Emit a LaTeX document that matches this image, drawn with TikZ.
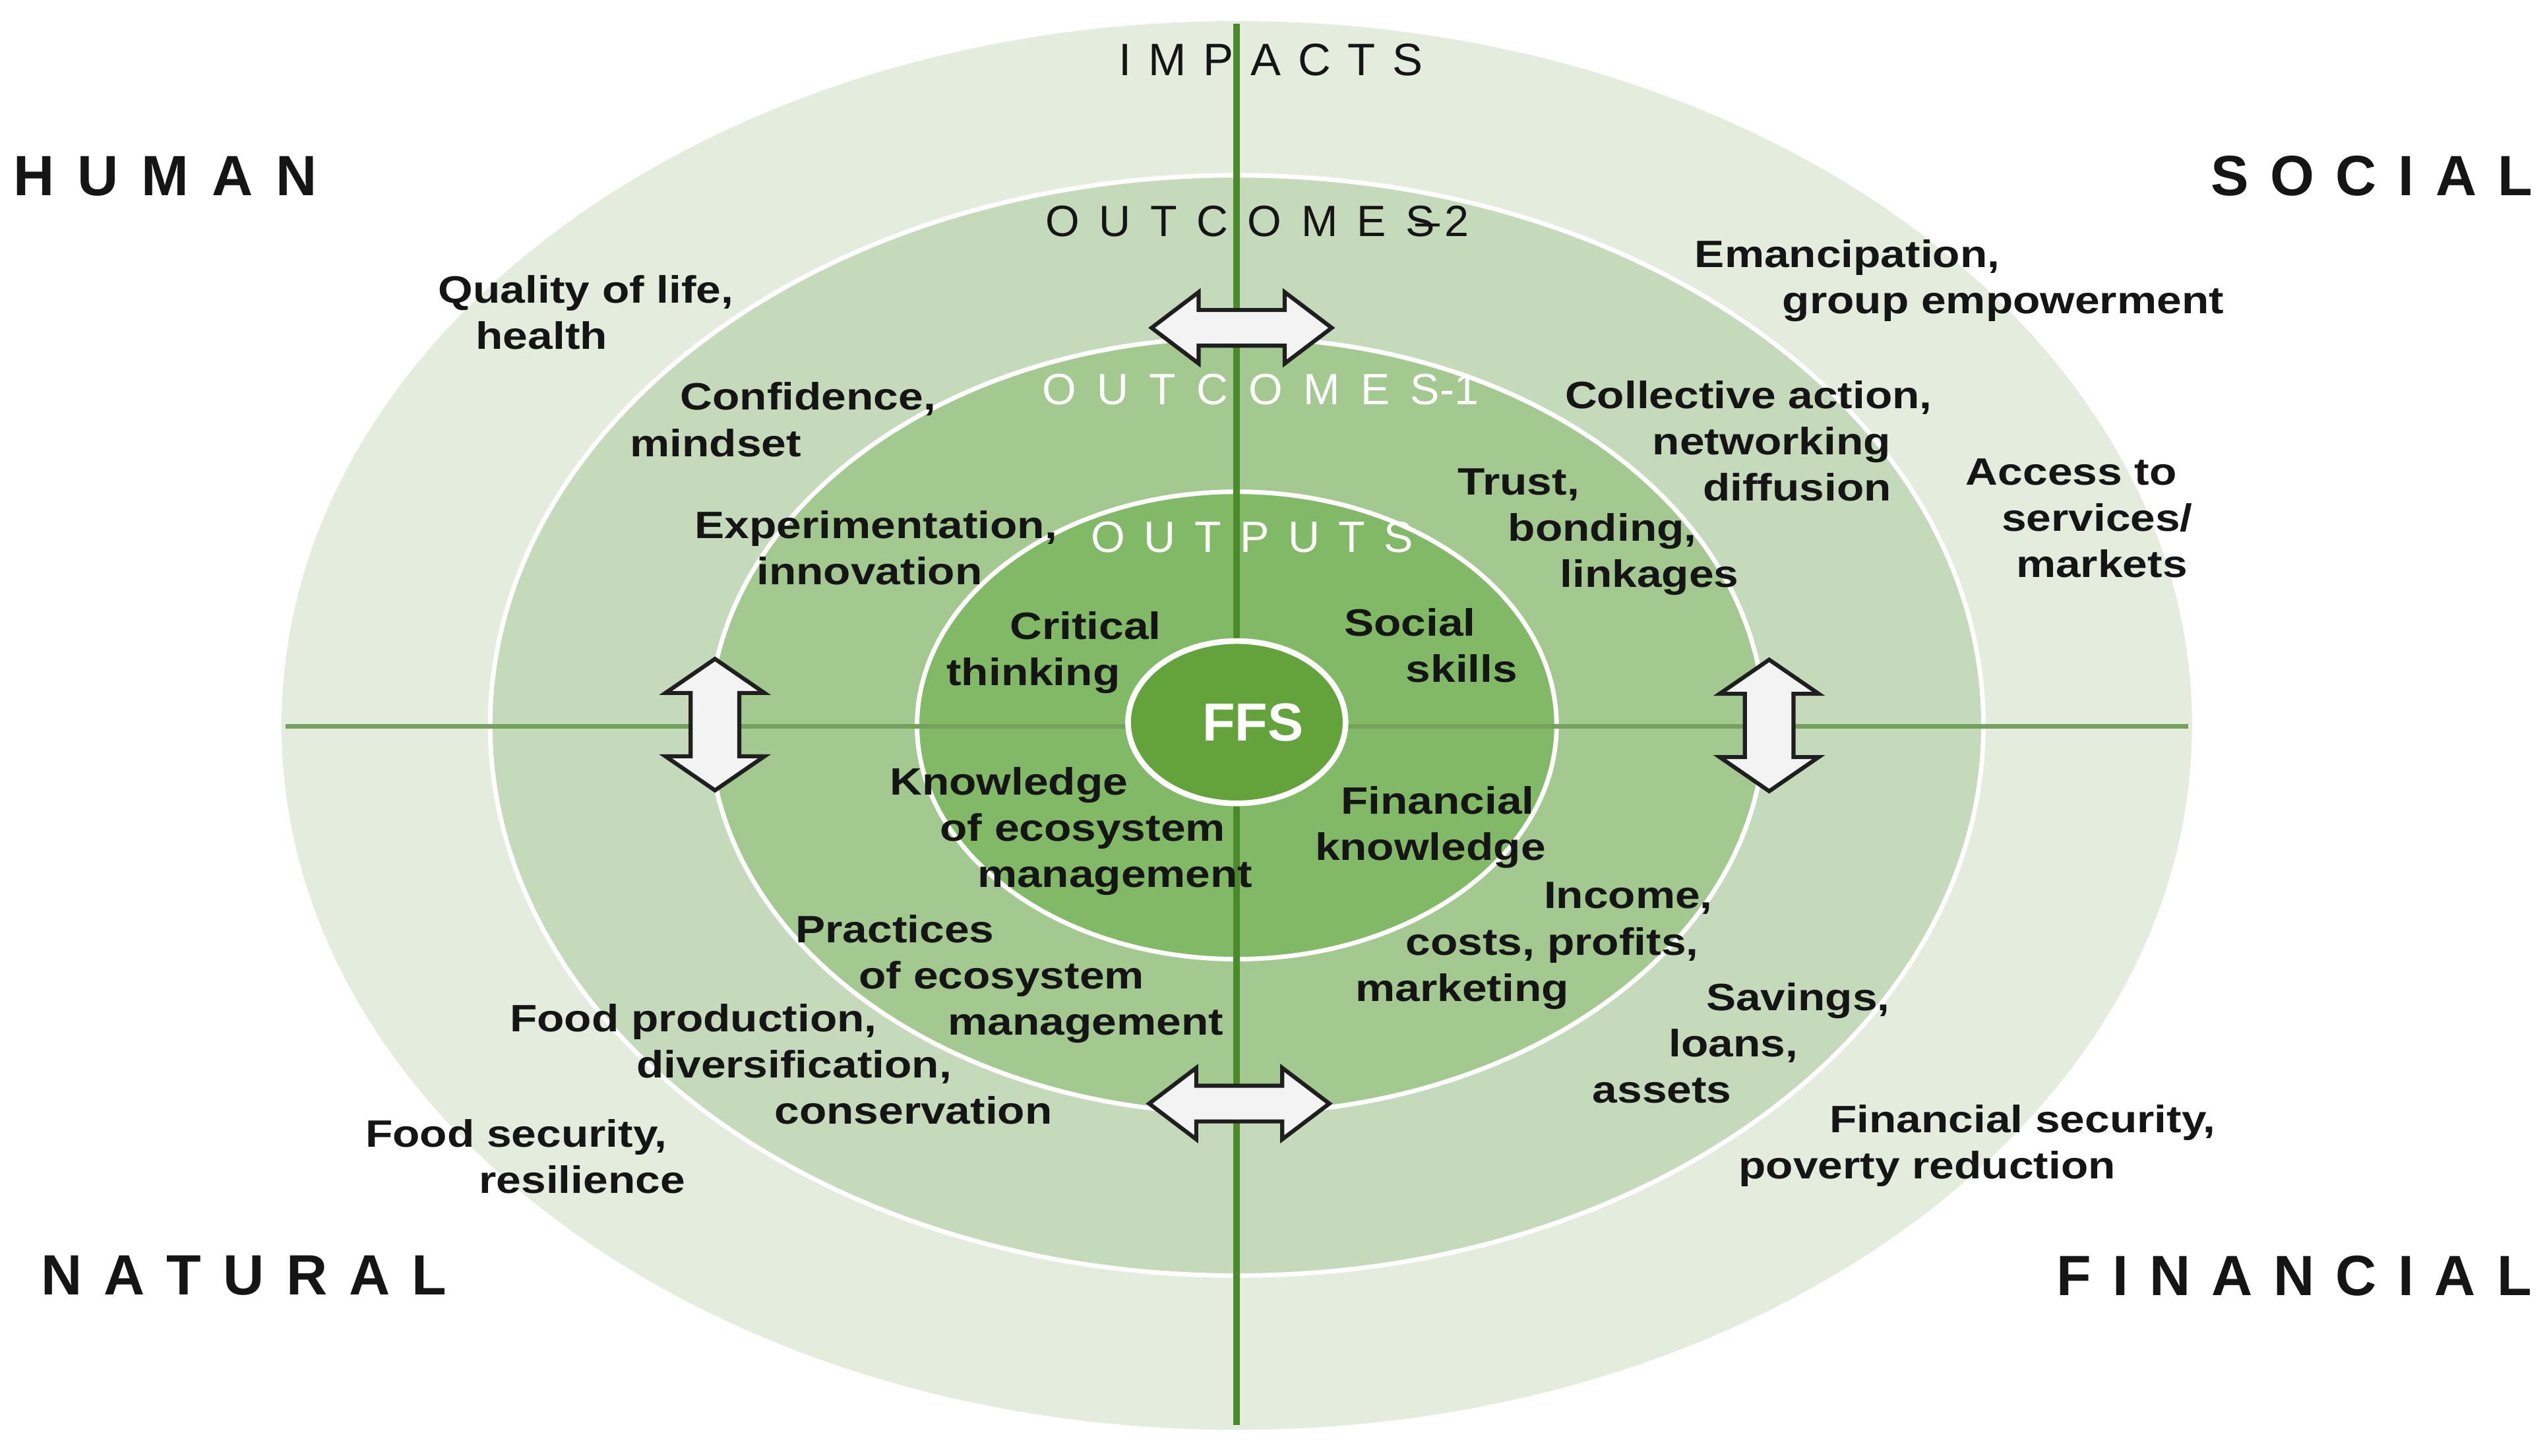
\documentclass[tikz,border=0pt]{standalone}
\usepackage{fontspec}
\setmainfont{Liberation Sans}
\newfontfamily\lblfont[FakeStretch=1.17]{Liberation Sans}
\usetikzlibrary{shapes.geometric}
\definecolor{ringimp}{HTML}{E3ECDD}
\definecolor{ringotwo}{HTML}{C5D9BB}
\definecolor{ringoone}{HTML}{A3C890}
\definecolor{ringout}{HTML}{82B966}
\definecolor{ffsfill}{HTML}{64A23C}
\definecolor{vline}{HTML}{4A8A2C}
\definecolor{hline}{HTML}{76A05E}
\definecolor{arrfill}{HTML}{F3F3F3}
\definecolor{txt}{HTML}{151515}
\newdimen\spk
\def\spc#1{\spcaux#1\relax\relax}
\def\spcaux#1#2{#1\ifx#2\relax\else\kern\spk\expandafter\spcaux\expandafter#2\fi}
\tikzset{
  ring/.style={ellipse, inner sep=0pt, draw=white, line width=2.8pt},
  lbl/.style={anchor=north west, align=left, inner sep=0pt, text=txt,
    font=\lblfont\bfseries\fontsize{23.5}{28.5}\selectfont},
  cat/.style={anchor=west, inner sep=0pt, text=txt,
    font=\bfseries\fontsize{35}{40}\selectfont},
  rlab/.style={anchor=west, inner sep=0pt, font=\fontsize{27}{30}\selectfont},
  blockarrow/.style={draw=black!88, line width=2.5pt, fill=arrfill, line join=miter},
  harrow/.pic={\draw[blockarrow] (-55.5,0) -- (-26.5,-22) -- (-26.5,-11) -- (26.5,-11)
      -- (26.5,-22) -- (55.5,0) -- (26.5,22) -- (26.5,11) -- (-26.5,11) -- (-26.5,22) -- cycle;},
  varrow/.pic={\draw[blockarrow] (0,-40.5) -- (30.5,-19.5) -- (15,-19.5) -- (15,19.5)
      -- (30.5,19.5) -- (0,40.5) -- (-30.5,19.5) -- (-15,19.5) -- (-15,-19.5) -- (-30.5,-19.5) -- cycle;}
}
\begin{document}
\begin{tikzpicture}[x=1pt,y=-1pt]
\useasboundingbox (0,0) rectangle (1568,897);
\fill[white] (0,0) rectangle (1568,897);
% rings
\node[ellipse, inner sep=0pt, fill=ringimp, minimum width=1177pt, minimum height=868pt] (impacts) at (762,447) {};
\node[ring, fill=ringotwo, minimum width=920pt, minimum height=678pt] (otwo) at (762,447) {};
\node[ring, fill=ringoone, minimum width=650pt, minimum height=478pt] (oone) at (762,447) {};
\node[ring, fill=ringout, minimum width=394pt, minimum height=288pt] (outputs) at (762,447) {};
% axes
\coordinate (vtop) at (762,14.6);
\coordinate (vbot) at (762,878);
\coordinate (hleft) at (176,447.5);
\coordinate (hright) at (1348,447.5);
\draw[hline, line width=2.7pt] (hleft) -- (hright);
\draw[vline, line width=4pt] (vtop) -- (vbot);
% centre
\node[ring, line width=3.5pt, fill=ffsfill, minimum width=134pt, minimum height=100pt, text=white,
  font=\bfseries\fontsize{33}{35}\selectfont] (ffs) at (762,445) {\hspace*{20pt}FFS};
% arrows
\path (765,202) pic {harrow};
\path (763.5,680) pic {harrow};
\path (440.5,446.5) pic {varrow};
\path (1090,447) pic {varrow};
% ring titles
\node[rlab, text=txt, font=\fontsize{28}{30}\selectfont] (timp) at (689,37) {\spk=10.5pt\relax\spc{IMPACTS}};
\node[rlab, text=txt] (totwo) at (644,136.5) {\spk=12pt\relax\spc{OUTCOMES}\kern-12pt–\kern3pt 2};
\node[rlab, text=white] (toone) at (642,240) {\spk=12.7pt\relax\spc{OUTCOMES}-1};
\node[rlab, text=white] (tout) at (672,331) {\spk=11.6pt\relax\spc{OUTPUTS}};
% capitals
\node[cat] (human) at (8,108.5) {\spk=14.2pt\relax\spc{HUMAN}};
\node[cat] (social) at (1362,108.5) {\spk=13.2pt\relax\spc{SOCIAL}};
\node[cat] (natural) at (25,786) {\spk=13.5pt\relax\spc{NATURAL}};
\node[cat] (financial) at (1267,786) {\spk=13pt\relax\spc{FINANCIAL}};
% labels
\node[lbl] (l1) at (270,169.5) {Quality of life,\\\hspace*{23pt}health};
\node[lbl] (l2) at (388,235.5) {\hspace*{31pt}Confidence,\\mindset};
\node[lbl] (l3) at (428,314.5) {Experimentation,\\\hspace*{38pt}innovation};
\node[lbl] (l4) at (583,376.5) {\hspace*{39pt}Critical\\thinking};
\node[lbl] (l5) at (828,374.5) {Social\\\hspace*{38pt}skills};
\node[lbl] (l6) at (548,472.5) {Knowledge\\\hspace*{31pt}of ecosystem\\\hspace*{54pt}management};
\node[lbl] (l7) at (810,484.5) {\hspace*{16pt}Financial\\knowledge};
\node[lbl] (l8) at (835,543.5) {\hspace*{116pt}Income,\\\hspace*{31pt}costs, profits,\\marketing};
\node[lbl] (l9) at (490,563.5) {Practices\\\hspace*{39pt}of ecosystem\\\hspace*{94pt}management};
\node[lbl] (l10) at (314,618.5) {Food production,\\\hspace*{78pt}diversification,\\\hspace*{163pt}conservation};
\node[lbl] (l11) at (225,689.5) {Food security,\\\hspace*{70pt}resilience};
\node[lbl] (l12) at (981,605.5) {\hspace*{70pt}Savings,\\\hspace*{47pt}loans,\\assets};
\node[lbl] (l13) at (1071,680.5) {\hspace*{56pt}Financial security,\\poverty reduction};
\node[lbl] (l14) at (1044,147.5) {Emancipation,\\\hspace*{54pt}group empowerment};
\node[lbl] (l15) at (964,234.5) {Collective action,\\\hspace*{54pt}networking\\\hspace*{85pt}diffusion};
\node[lbl] (l16) at (898,288.5) {Trust,\\\hspace*{31pt}bonding,\\\hspace*{63pt}linkages};
\node[lbl] (l17) at (1211,282.5) {Access to\\\hspace*{22pt}services/\\\hspace*{31pt}markets};
\end{tikzpicture}
\end{document}
